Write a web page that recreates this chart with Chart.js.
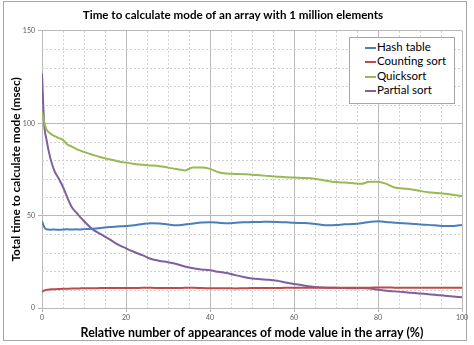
<!DOCTYPE html>
<html>
<head>
<meta charset="utf-8">
<script src="https://cdn.jsdelivr.net/npm/chart.js@4.4.0/dist/chart.umd.min.js"></script>
<style>
  html, body { margin: 0; padding: 0; background: #fff; }
  #wrap { position: relative; width: 474px; height: 345px; }
  #frame { position: absolute; left: 3px; top: 1px; width: 462px; height: 338px; border: 1px solid #a6a6a6; }
  #chart { position: absolute; left: 0; top: 0; }
  #legend {
    position: absolute; left: 349px; top: 37px; width: 104px; height: 63px;
    border: 1px solid #a6a6a6; background: #fff; margin: 0; padding: 2px 0 0 0;
    list-style: none; font-family: Lato, sans-serif; font-size: 11.5px; color: #000;
  }
  #legend li { height: 14.4px; line-height: 14.4px; white-space: nowrap; }
  .legend-color { display: inline-block; width: 11px; height: 2px; vertical-align: middle; margin: 0 1px 0 15px; }
</style>
</head>
<body>
<div id="wrap">
  <div id="frame"></div>
  <canvas id="chart" width="474" height="345"></canvas>
  <ul id="legend"></ul>
</div>
<script>
const percent = [0, 0.5, 1, 2, 3, 4, 5, 6, 7, 8, 9, 10, 12, 14, 16, 18, 20, 22, 24, 26, 28,
  30, 32, 34, 36, 38, 40, 42, 44, 46, 48, 50, 52, 54, 56, 58, 60, 62, 64, 66, 68,
  70, 72, 74, 76, 78, 80, 82, 84, 86, 88, 90, 92, 94, 96, 98, 100];

const hashTable = [47, 44, 42.6, 42.4, 42.5, 42.3, 42.5, 42.6, 42.5, 42.6, 42.5, 42.7, 42.9, 43.3, 43.8, 44.1, 44.4, 44.8, 45.5, 45.9, 45.8,
  45.2, 44.8, 45.2, 45.8, 46.3, 46.4, 46.2, 45.9, 46.1, 46.4, 46.5, 46.6, 46.7, 46.6, 46.4, 46.1, 46, 45.8, 45.2, 44.8,
  44.9, 45.3, 45.5, 45.9, 46.6, 47, 46.6, 46.1, 45.9, 45.6, 45.2, 45, 44.7, 44.4, 44.4, 45];

const countingSort = [8.8, 9.4, 9.8, 10.1, 10.2, 10.3, 10.4, 10.4, 10.5, 10.5, 10.6, 10.7, 10.7, 10.8, 10.8, 10.8, 10.8, 10.8, 10.9, 10.9, 10.8,
  10.8, 10.8, 10.9, 11, 10.8, 10.7, 10.7, 10.7, 10.6, 10.7, 10.8, 10.8, 10.8, 10.8, 10.9, 10.9, 10.9, 10.9, 10.9, 10.9,
  10.9, 10.9, 11, 11, 11, 11.1, 11.1, 11, 10.9, 10.9, 10.9, 10.9, 10.9, 11, 10.9, 10.9];

const quicksort = [106, 101, 97, 94.5, 93, 92, 91, 88.5, 87.5, 86.3, 85.3, 84.5, 83, 81.6, 80.5, 79.5, 78.7, 78, 77.5, 77.2, 76.8,
  76, 75.2, 74.5, 76, 76, 75.3, 73.5, 72.8, 72.6, 72.4, 72.2, 71.8, 71.4, 71.1, 70.8, 70.6, 70.4, 70.2, 69.6, 68.8,
  68.2, 67.9, 67.6, 67.2, 68.4, 68.4, 67.2, 65.2, 64.7, 64.2, 63.4, 62.7, 62.3, 61.9, 61.2, 60.5];

const partialSort = [127, 100, 92, 81, 74, 70, 65.5, 60, 55, 52, 49.5, 47, 42.7, 40, 37.3, 34.5, 32.3, 30.3, 28.5, 26.5, 25.5,
  24.8, 23.8, 22.5, 21.5, 20.9, 20.4, 19.6, 18.9, 17.8, 16.8, 16, 15.6, 15.3, 14.7, 13.8, 13, 12.3, 11.6, 11.2, 11,
  10.9, 10.8, 10.7, 10.8, 10.5, 9.9, 9.4, 9, 8.6, 8.3, 7.9, 7.5, 7.1, 6.6, 6.2, 5.8];

const seriesNames = ["Hash table", "Counting sort", "Quicksort", "Partial sort"];
const seriesColors = ["#4a7ebb", "#be4b48", "#98b954", "#7d60a0"];
const xTicks = [0, 20, 40, 60, 80, 100];
const yTicks = [0, 50, 100, 150];

const FONT = "Lato, 'Liberation Sans', sans-serif";

// dotted minor grid every 5 on x and every 10 on y, under the lines
const minorGrid = {
  id: "minorGrid",
  beforeDatasetsDraw(chart) {
    const { ctx, chartArea: a, scales: { x, y } } = chart;
    ctx.save();
    ctx.strokeStyle = "#d0d0d0";
    ctx.lineWidth = 1;
    ctx.setLineDash([2, 2]);
    ctx.beginPath();
    for (let v = 5; v < 100; v += 5) {
      if (v % 20 === 0) continue;
      const px = Math.round(x.getPixelForValue(v)) + 0.5;
      ctx.moveTo(px, a.top);
      ctx.lineTo(px, a.bottom);
    }
    for (let v = 10; v < 150; v += 10) {
      if (v % 50 === 0) continue;
      const py = Math.round(y.getPixelForValue(v)) + 0.5;
      ctx.moveTo(a.left, py);
      ctx.lineTo(a.right, py);
    }
    ctx.stroke();
    ctx.restore();
  }
};

const allSeries = [hashTable, countingSort, quicksort, partialSort];

const chart = new Chart(document.getElementById("chart").getContext("2d"), {
  type: "line",
  data: {
    datasets: allSeries.map((vals, i) => ({
      label: seriesNames[i],
      data: percent.map((p, j) => ({ x: p, y: vals[j] })),
      borderColor: seriesColors[i],
      backgroundColor: seriesColors[i],
      borderWidth: 2,
      pointRadius: 0,
      cubicInterpolationMode: "monotone",
      fill: false
    }))
  },
  options: {
    responsive: false,
    animation: false,
    layout: { padding: { left: 4, right: 12, top: 0, bottom: 0 } },
    plugins: {
      legend: { display: false },
      tooltip: { enabled: false },
      title: {
        display: true,
        text: "Time to calculate mode of an array with 1 million elements",
        color: "#000",
        font: { family: FONT, size: 11.6, weight: "bold" },
        padding: { top: 8, bottom: 9 }
      }
    },
    scales: {
      x: {
        type: "linear",
        min: 0,
        max: 100,
        afterBuildTicks: s => { s.ticks = xTicks.map(v => ({ value: v })); },
        afterFit: s => { s.height = 37; },
        ticks: { color: "#595959", font: { family: FONT, size: 7 }, padding: 2, maxRotation: 0 },
        grid: { color: "#b8b8b8", tickLength: 4 },
        border: { color: "#b8b8b8" },
        title: {
          display: true,
          text: "Relative number of appearances of mode value in the array (%)",
          color: "#000",
          font: { family: FONT, size: 12.4, weight: "bold" },
          padding: { top: 0, bottom: 5 }
        }
      },
      y: {
        min: 0,
        max: 150,
        afterBuildTicks: s => { s.ticks = yTicks.map(v => ({ value: v })); },
        afterFit: s => { s.width = 38; },
        ticks: { color: "#595959", font: { family: FONT, size: 7 }, padding: 3 },
        grid: { color: "#b8b8b8", tickLength: 4 },
        border: { color: "#b8b8b8" },
        title: {
          display: true,
          text: "Total time to calculate mode (msec)",
          color: "#000",
          font: { family: FONT, size: 11.8, weight: "bold" },
          padding: { top: 5, bottom: 0 }
        }
      }
    }
  },
  plugins: [minorGrid]
});

const legend = document.getElementById("legend");
seriesNames.forEach((name, i) => {
  const li = document.createElement("li");
  li.innerHTML = `<span class="legend-color" style="background-color:${seriesColors[i]}"></span><span class="legend-text">${name}</span>`;
  legend.appendChild(li);
});
</script>
</body>
</html>
